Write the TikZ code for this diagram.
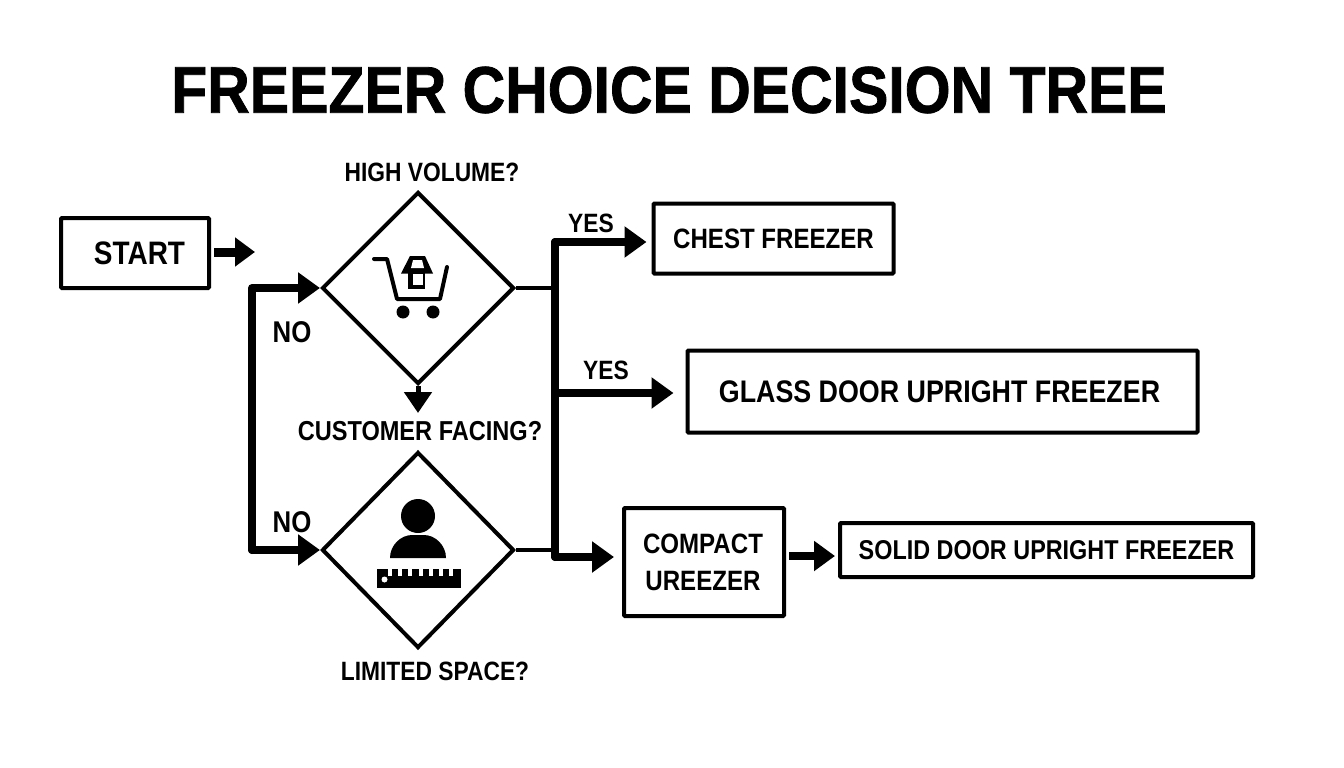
\documentclass[tikz,border=0pt]{standalone}
\usepackage{fontspec}
\setmainfont[FakeStretch=0.86]{Liberation Sans}
\newfontfamily\titlefont[FakeStretch=0.893,FakeBold=1.2]{Liberation Sans Bold}
\usetikzlibrary{shapes.geometric,arrows.meta}
\newcommand{\fs}[1]{\fontsize{#1}{#1}\selectfont\bfseries}
\tikzset{
 x=1pt,y=-1pt,
 box/.style={draw=black,line width=4pt,rounded corners=1pt,fill=white,inner sep=0pt,align=center},
 dia/.style={draw=black,line width=4pt,fill=white,diamond,aspect=1,inner sep=0pt},
 lbl/.style={inner sep=0pt,font=\fs{26.5}},
 boxt/.style={font=\fs{28}},
 thick arrow/.style={line width=8pt,line join=round,line cap=round,-{Triangle[length=22pt,width=30pt,sharp]}},
 thin link/.style={line width=3.5pt},
 thick link/.style={line width=8pt,line join=round,line cap=round},
}
\begin{document}
\begin{tikzpicture}
\useasboundingbox (0,0) rectangle (1344,768);
\fill[white] (0,0) rectangle (1344,768);
\node[inner sep=0pt,font=\titlefont\fontsize{66}{66}\selectfont] (title) at (669,90) {FREEZER CHOICE DECISION TREE};
\node[box,minimum width=148pt,minimum height=70pt] (start) at (135,253) {};
\node[inner sep=0pt,font=\fs{32.5}] (startt) at (139.5,253.5) {START};
\node[dia,minimum width=192pt,minimum height=192pt] (d1) at (418,288) {};
\node[dia,minimum width=192pt,minimum height=196pt] (d2) at (418,550) {};
\node[box,minimum width=240pt,minimum height=70pt,boxt] (chest) at (773.5,238.5) {CHEST FREEZER};
\node[box,minimum width=510pt,minimum height=82pt,font=\fs{31.2}] (glass) at (942.5,391.5) {\hspace*{-6pt}GLASS DOOR UPRIGHT FREEZER};
\node[box,minimum width=160pt,minimum height=108pt,boxt] (compact) at (704,562) {\hspace*{-2pt}COMPACT\\[9pt]\hspace*{-2pt}UREEZER};
\node[box,minimum width=413pt,minimum height=54pt,font=\fs{27.2}] (solid) at (1046.5,550) {SOLID DOOR UPRIGHT FREEZER};
\node[lbl] (q1) at (432,172) {HIGH VOLUME?};
\node[lbl,font=\fs{27.4}] (q2) at (420,431) {CUSTOMER FACING?};
\node[lbl] (q3) at (435,671) {LIMITED SPACE?};
\node[lbl,font=\fs{30}] (no1) at (292,332) {NO};
\node[lbl,font=\fs{30}] (no2) at (292,522) {NO};
\node[lbl] (y1) at (591,223) {YES};
\node[lbl] (y2) at (606,370) {YES};
\coordinate (se) at (255,252);
\coordinate (down) at (418,413);
\coordinate (ll) at (252,550);
\coordinate (lt) at (252,288);
\coordinate (rt) at (555,242);
\coordinate (rm) at (555,393);
\coordinate (rb) at (555,557);
\coordinate (j1) at (555,288);
\coordinate (j2) at (555,550);
% connectors
\draw[thick arrow,line cap=butt,-{Triangle[length=20pt,width=28pt,sharp]},line width=9pt,shorten <=3pt] (se -| start.east) -- (se);
\draw[thin link] (d1.east) -- (j1);
\draw[thin link] (d2.east) -- (j2);
\draw[line width=5pt,-{Triangle[length=21pt,width=27pt,sharp]}] (d1.south) -- (down);
\draw[thick arrow] (ll) -- (lt) -- (d1.west);
\draw[thick arrow] (ll) -- (d2.west);
\draw[thick link] (rt) -- (rb);
\draw[thick arrow,shorten >=5pt] (rt) -- (rt -| chest.west);
\draw[thick arrow,shorten >=12pt] (rm) -- (rm -| glass.west);
\draw[thick arrow,shorten >=8pt] (rb) -- (rb -| compact.west);
\draw[line width=8.5pt,line cap=butt,-{Triangle[length=21pt,width=29pt,sharp]},shorten <=3pt,shorten >=3pt] (compact.east |- 0,556) -- (solid.west |- 0,556);
% cart icon
\draw[line width=4pt,line join=round,line cap=round] (374,259) -- (387,259) -- (397,299) -- (440,299) -- (447,267);
\fill (403,312) circle (6.5pt) (433,312) circle (6.5pt);
\fill (410,256) -- (425,256) -- (433,273.5) -- (401,273.5) -- cycle;
\fill (408,270) rectangle (425,289);
\fill[white] (413,260) -- (422,260) -- (424,268) -- (411,268) -- cycle;
\fill[white] (413,273.5) rectangle (422.5,285);
% person icon
\fill (418,516) circle (17pt);
\fill (390,558) .. controls (390,545) and (401,535) .. (412,535) -- (424,535) .. controls (435,535) and (446,545) .. (446,558) -- cycle;
% ruler icon
\fill (377,569) rectangle (461,588);
\foreach \i in {0,...,6}{\fill[white] (388+\i*10.2,569) rectangle (392+\i*10.2,575.5);}
\fill[white] (384.5,579.5) circle (3pt);
\end{tikzpicture}
\end{document}
